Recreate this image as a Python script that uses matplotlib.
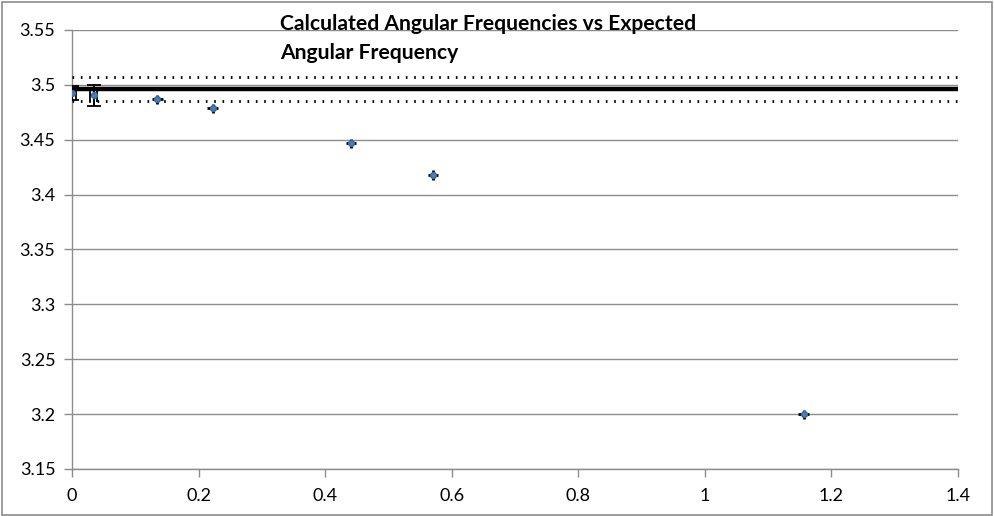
import numpy as np
import matplotlib
matplotlib.use("Agg")
import matplotlib.pyplot as plt

plt.rcParams['font.family'] = ['Lato', 'DejaVu Sans']

# measured points
x_vals = [0.0, 0.034, 0.135, 0.222, 0.441, 0.570, 1.156]
y_vals = [3.4929, 3.4905, 3.4868, 3.4787, 3.4468, 3.4179, 3.1998]
x_err = [0.006, 0.006, 0.0087, 0.0085, 0.008, 0.008, 0.0085]
y_err = [0.0065, 0.0094, 0.004, 0.004, 0.0043, 0.0043, 0.0043]

# expected value and its bounds
expected = 3.496
expected_lo = 3.485
expected_hi = 3.507

fig = plt.figure(figsize=(9.95, 5.16), dpi=100)
ax = fig.add_axes([0.0724, 0.0911, 0.8904, 0.8508])

ax.axhline(expected, color='black', lw=3.2, zorder=3)
ax.axhline(expected_lo, color='black', lw=2.0, ls=(0, (0.6, 2.4)), zorder=3)
ax.axhline(expected_hi, color='black', lw=2.0, ls=(0, (0.6, 2.4)), zorder=3)

style = dict(fmt='o', ms=4.2, mfc='#4A7EBB', mec='#3A67A0', ecolor='black',
             capthick=1.3, zorder=4)
ax.errorbar(x_vals[:2], y_vals[:2], xerr=x_err[:2], yerr=y_err[:2], capsize=5,
            elinewidth=1.4, **style)
ax.errorbar(x_vals[2:], y_vals[2:], xerr=x_err[2:], yerr=y_err[2:], capsize=0,
            elinewidth=2.0, **style)

ax.set_xlim(0, 1.4)
ax.set_ylim(3.15, 3.55)
ax.set_xticks(np.arange(0, 1.41, 0.2))
ax.set_xticklabels(['0', '0.2', '0.4', '0.6', '0.8', '1', '1.2', '1.4'])
ax.set_yticks(np.arange(3.15, 3.551, 0.05))
ax.set_yticklabels(['3.15', '3.2', '3.25', '3.3', '3.35', '3.4', '3.45', '3.5', '3.55'])

ax.yaxis.grid(True, color='#8C8C8C', lw=1.0)
ax.set_axisbelow(True)
for s in ['top', 'right']:
    ax.spines[s].set_visible(False)
for s in ['left', 'bottom']:
    ax.spines[s].set_color('#8C8C8C')
    ax.spines[s].set_linewidth(1.0)
ax.tick_params(axis='both', colors='#8C8C8C', labelcolor='black', labelsize=13,
               length=6, width=1.0)
ax.tick_params(axis='x', pad=8)
ax.tick_params(axis='y', pad=6)

ax.text(0.235, 1.037, 'Calculated Angular Frequencies vs Expected\nAngular Frequency',
        transform=ax.transAxes, ha='left', va='top', fontsize=15.2,
        fontweight='bold', linespacing=1.6, zorder=5)

fig.patches.append(plt.Rectangle((0.002, 0.002), 0.995, 0.995, transform=fig.transFigure,
                                 fill=False, edgecolor='#8C8C8C', lw=1.2))

fig.savefig('out.png', dpi=100)
